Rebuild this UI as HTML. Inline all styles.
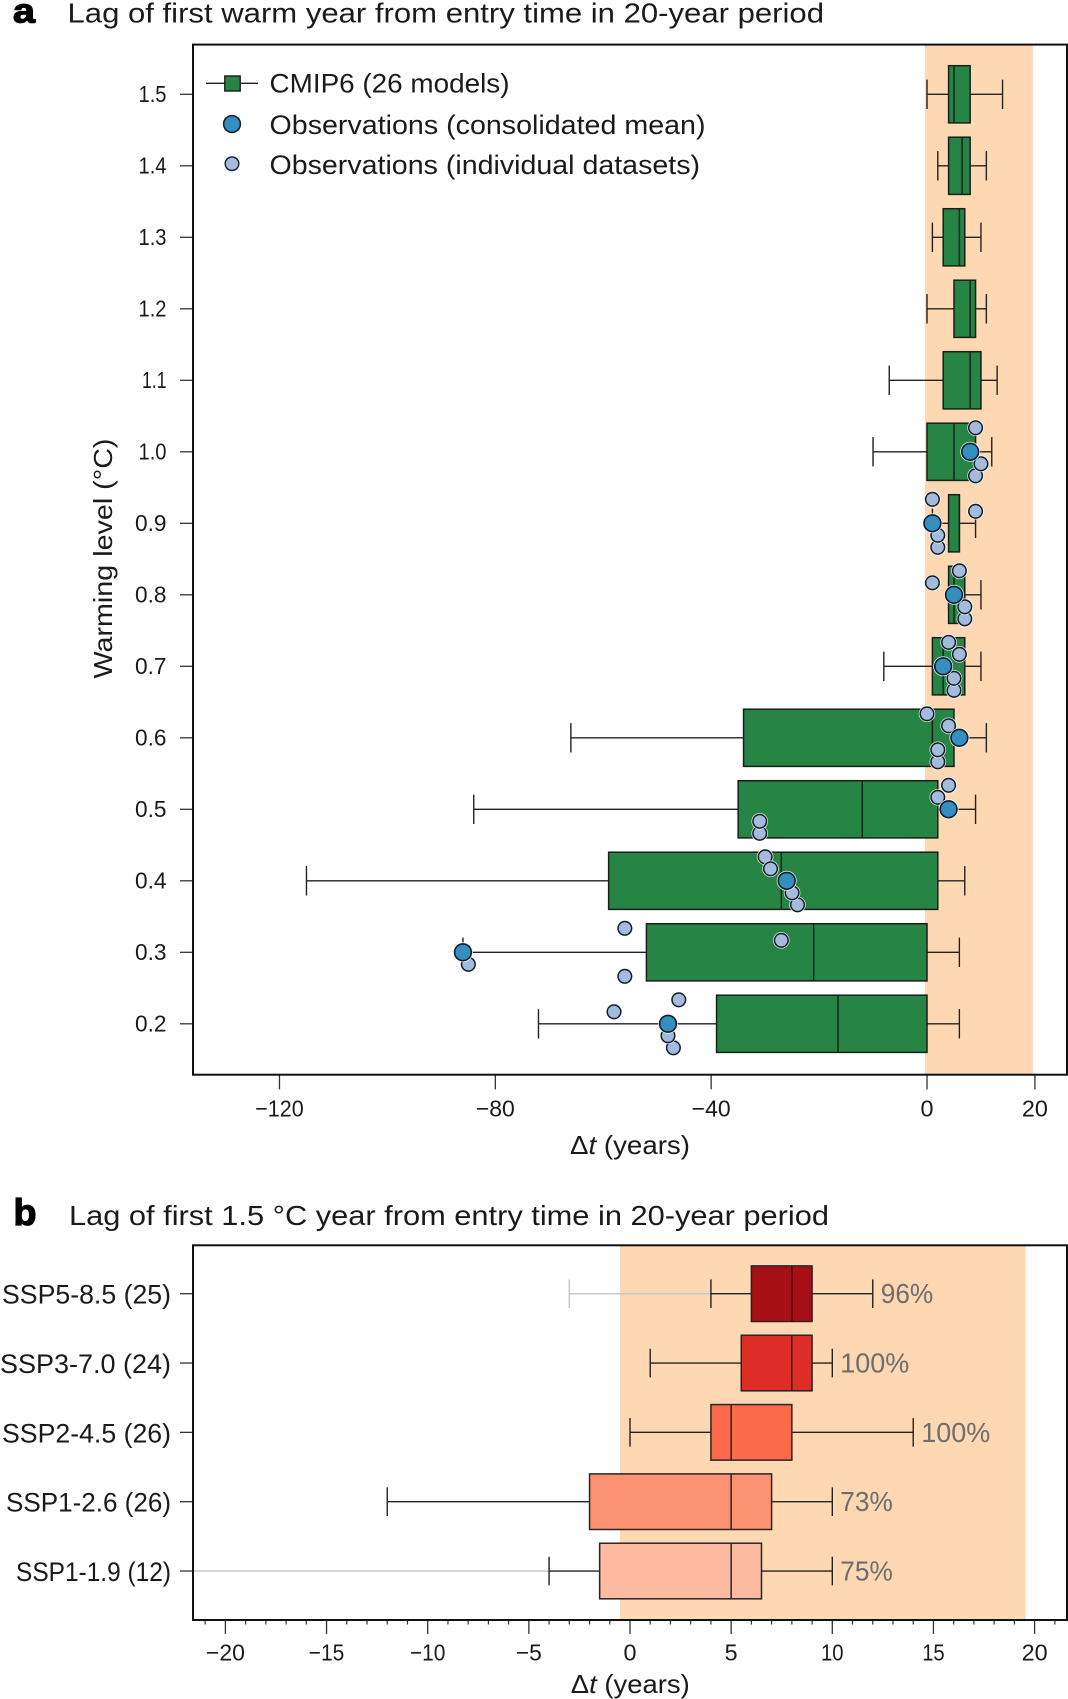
<!DOCTYPE html>
<html lang="en">
<head>
<meta charset="utf-8">
<title>Lag of first warm year and first 1.5 °C year</title>
<style>
html,body{margin:0;padding:0;background:#fff;}
svg{display:block;}
text{font-family:"Liberation Sans",sans-serif;fill:#1a1a1a;}
</style>
</head>
<body>
<svg id="figure" xmlns="http://www.w3.org/2000/svg" width="1068" height="1699" viewBox="0 0 1068 1699">
  <rect x="0" y="0" width="1068" height="1699" fill="#fff"/>

  <text x="13" y="22.7" font-size="34" font-weight="700" stroke="#000" stroke-width="1.2" textLength="22" lengthAdjust="spacingAndGlyphs" style="fill:#000">a</text>
  <text x="67.5" y="22.7" font-size="28" textLength="756.5" lengthAdjust="spacingAndGlyphs">Lag of first warm year from entry time in 20-year period</text>

  <g id="panel-a"></g>

  <g>
    <line x1="206" x2="258" y1="83.3" y2="83.3" stroke="#222" stroke-width="1.4"/>
    <rect x="224.8" y="76" width="15.4" height="15" fill="#268445" stroke="#1a1a1a" stroke-width="1.4"/>
    <text x="269.5" y="92.7" font-size="27" textLength="240" lengthAdjust="spacingAndGlyphs">CMIP6 (26 models)</text>
    <circle cx="232" cy="124" r="8.4" fill="#348fc1" stroke="#101c28" stroke-width="1.5"/>
    <text x="269.5" y="134" font-size="27" textLength="436" lengthAdjust="spacingAndGlyphs">Observations (consolidated mean)</text>
    <circle cx="232" cy="163.7" r="6.8" fill="#a5bbdd" stroke="#101c28" stroke-width="1.4"/>
    <text x="269.5" y="174" font-size="27" textLength="430.5" lengthAdjust="spacingAndGlyphs">Observations (individual datasets)</text>
  </g>

  <text transform="translate(112 558.5) rotate(-90)" text-anchor="middle" font-size="26" textLength="240" lengthAdjust="spacingAndGlyphs">Warming level (°C)</text>
  <text x="570" y="1154" font-size="26" textLength="120" lengthAdjust="spacingAndGlyphs">Δ<tspan font-style="italic">t</tspan> (years)</text>

  <text x="13.5" y="1225" font-size="37" font-weight="700" stroke="#000" stroke-width="1.2" textLength="23" lengthAdjust="spacingAndGlyphs" style="fill:#000">b</text>
  <text x="69" y="1225" font-size="28" textLength="760" lengthAdjust="spacingAndGlyphs">Lag of first 1.5 °C year from entry time in 20-year period</text>

  <g id="panel-b"></g>

  <text x="570.8" y="1693" font-size="26" textLength="119" lengthAdjust="spacingAndGlyphs">Δ<tspan font-style="italic">t</tspan> (years)</text>
</svg>

<script>
// ---------- Panel a data ----------
const levels = [1.5,1.4,1.3,1.2,1.1,1.0,0.9,0.8,0.7,0.6,0.5,0.4,0.3,0.2];
const levelLabels = ['1.5','1.4','1.3','1.2','1.1','1.0','0.9','0.8','0.7','0.6','0.5','0.4','0.3','0.2'];
const cmipLow    = [0,2,1,0,-7,-10,1,4,-8,-66,-84,-115,-86,-72];
const cmipQ1     = [4,4,3,5,3,0,4,4,1,-34,-35,-59,-52,-39];
const cmipMedian = [5,6.5,6,8,8,5,6,5,3,1,-12,-27,-21,-16.5];
const cmipQ3     = [8,8,7,9,10,9,6,7,7,5,2,2,0,0];
const cmipHigh   = [14,11,10,11,13,12,9,10,10,11,9,7,6,6];
const obsMean    = [null,null,null,null,null,8,1,5,3,6,4,-26,-86,-48];
const obsDatasetA = [null,null,null,null,null,9,1,6,4,0,4,-30,-56,-46];
const obsDatasetB = [null,null,null,null,null,null,9,1,6,4,2,-29,-27,-58];
const obsDatasetC = [null,null,null,null,null,10,2,7,5,2,-31,-25,-85,-48];
const obsDatasetD = [null,null,null,null,null,9,2,7,5,2,-31,-24,-56,-47];
const xTicksA = [-120,-80,-40,0,20];
const entryWindowA = [-0.4,19.6];

// ---------- Panel b data ----------
const scenarios = ['SSP5-8.5 (25)','SSP3-7.0 (24)','SSP2-4.5 (26)','SSP1-2.6 (26)','SSP1-1.9 (12)'];
const sspExtreme = [-3,null,null,null,-30];
const sspLow    = [4,1,0,-12,-4];
const sspQ1     = [6,5.5,4,-2,-1.5];
const sspMedian = [8,8,5,5,5];
const sspQ3     = [9,9,8,7,6.5];
const sspHigh   = [12,10,14,10,10];
const sspShare  = ['96%','100%','100%','73%','75%'];
const xTicksB = [-20,-15,-10,-5,0,5,10,15,20];
const entryWindowB = [-0.5,19.55];

// ---------- Helpers ----------
const NS = 'http://www.w3.org/2000/svg';
function mk(parent, tag, props, text){
  const el = document.createElementNS(NS, tag);
  for (const k in props) el.setAttribute(k, props[k]);
  if (text !== undefined) el.textContent = text;
  parent.appendChild(el);
  return el;
}
function labelWidth(s){
  let w = 0;
  for (const c of s) w += c === '1' ? 9.5 : c === '.' ? 5.5 : 13;
  return w;
}
function fmt(v){ return v < 0 ? '−' + Math.abs(v) : String(v); }

// ---------- Panel a ----------
const A = {left:193, right:1067, top:44.6, bottom:1074.7};
const xA = v => 927 + 5.396 * v;
const yA = v => 94.3 + (1.5 - v) * 715;
const gA = document.getElementById('panel-a');

const shadeA = mk(gA,'rect',{x:xA(entryWindowA[0]),y:A.top,width:xA(entryWindowA[1])-xA(entryWindowA[0]),height:A.bottom-A.top,fill:'#fed8b3'});



levels.forEach((lv,i)=>{
  const y = yA(lv);
  const tick = mk(gA,'line',{x1:180,x2:A.left,y1:y,y2:y,stroke:'#333','stroke-width':1.3});
  
  
  const lab = mk(gA,'text',{x:166.5,y:y+7.8,'text-anchor':'end','font-size':23,textLength:labelWidth(levelLabels[i]),lengthAdjust:'spacingAndGlyphs'},levelLabels[i]);
  
  

  const whisker = mk(gA,'line',{x1:xA(cmipLow[i]),x2:xA(cmipHigh[i]),y1:y,y2:y,stroke:'#222','stroke-width':1.4});
  
  
  const capL = mk(gA,'line',{x1:xA(cmipLow[i]),x2:xA(cmipLow[i]),y1:y-14.7,y2:y+14.7,stroke:'#222','stroke-width':1.4});
  
  
  const capH = mk(gA,'line',{x1:xA(cmipHigh[i]),x2:xA(cmipHigh[i]),y1:y-14.7,y2:y+14.7,stroke:'#222','stroke-width':1.4});
  
  
  const box = mk(gA,'rect',{x:xA(cmipQ1[i]),y:y-28.6,width:xA(cmipQ3[i])-xA(cmipQ1[i]),height:57.2,fill:'#268445',stroke:'#1a1f1c','stroke-width':1.5});
  
  
  const med = mk(gA,'line',{x1:xA(cmipMedian[i]),x2:xA(cmipMedian[i]),y1:y-28.6,y2:y+28.6,stroke:'#14261b','stroke-width':1.5});
  
  
});

[[obsDatasetA,-24],[obsDatasetB,-12],[obsDatasetD,24],[obsDatasetC,12]].forEach(pair=>{
  pair[0].forEach((v,i)=>{
    if (v === null) return;
    const y = yA(levels[i]) + pair[1];
    const halo = mk(gA,'circle',{cx:xA(v),cy:y,r:8.3,fill:'#fff','fill-opacity':0.85});
    
    
    const dot = mk(gA,'circle',{cx:xA(v),cy:y,r:6.8,fill:'#a5bbdd',stroke:'#101c28','stroke-width':1.5});
    
    
  });
});
obsMean.forEach((v,i)=>{
  if (v === null) return;
  const y = yA(levels[i]);
  const halo = mk(gA,'circle',{cx:xA(v),cy:y,r:10,fill:'#fff','fill-opacity':0.85});
  
  
  const dot = mk(gA,'circle',{cx:xA(v),cy:y,r:8.4,fill:'#348fc1',stroke:'#101c28','stroke-width':1.6});
  
  
});

xTicksA.forEach(t=>{
  const x = xA(t);
  const tick = mk(gA,'line',{x1:x,x2:x,y1:A.bottom,y2:A.bottom+14.7,stroke:'#333','stroke-width':1.3});
  
  
  const s = fmt(t);
  const lab = mk(gA,'text',{x:x,y:1116.7,'text-anchor':'middle','font-size':23,textLength:labelWidth(s),lengthAdjust:'spacingAndGlyphs'},s);
  
  
});
const frameA = mk(gA,'rect',{x:A.left,y:A.top,width:A.right-A.left,height:A.bottom-A.top,fill:'none',stroke:'#111','stroke-width':2});



// ---------- Panel b ----------
const B = {left:193, right:1067, top:1245.3, bottom:1620};
const xB = v => 630 + 20.23 * v;
const yB = i => 1293.7 + i * 69.33;
const sspFills = ['#a50f15','#de2d26','#fb6a4a','#fc9272','#fcbba1'];
const gB = document.getElementById('panel-b');

const shadeB = mk(gB,'rect',{x:xB(entryWindowB[0]),y:B.top,width:xB(entryWindowB[1])-xB(entryWindowB[0]),height:B.bottom-B.top,fill:'#fed8b3'});



scenarios.forEach((name,i)=>{
  const y = yB(i);
  const tick = mk(gB,'line',{x1:180,x2:B.left,y1:y,y2:y,stroke:'#333','stroke-width':1.3});
  
  
  const lab = mk(gB,'text',{x:171,y:y+10,'text-anchor':'end','font-size':27,textLength:name.indexOf('1.9')>0?155:(name.indexOf('2.6')>0?165:(name.indexOf('7.0')>0?171:169)),lengthAdjust:'spacingAndGlyphs'},name);
  
  

  if (sspExtreme[i] !== null){
    const lowX = Math.max(xB(sspExtreme[i]), B.left);
    const ext = mk(gB,'line',{x1:lowX,x2:xB(sspLow[i]),y1:y,y2:y,stroke:'#c9c9c9','stroke-width':1.5});
    
    
    if (lowX > B.left){
      const extCap = mk(gB,'line',{x1:lowX,x2:lowX,y1:y-14.3,y2:y+14.3,stroke:'#c9c9c9','stroke-width':1.5});
      
      
    }
  }
  const whisker = mk(gB,'line',{x1:xB(sspLow[i]),x2:xB(sspHigh[i]),y1:y,y2:y,stroke:'#222','stroke-width':1.4});
  
  
  const capL = mk(gB,'line',{x1:xB(sspLow[i]),x2:xB(sspLow[i]),y1:y-14.3,y2:y+14.3,stroke:'#222','stroke-width':1.4});
  
  
  const capH = mk(gB,'line',{x1:xB(sspHigh[i]),x2:xB(sspHigh[i]),y1:y-14.3,y2:y+14.3,stroke:'#222','stroke-width':1.4});
  
  
  const box = mk(gB,'rect',{x:xB(sspQ1[i]),y:y-27.8,width:xB(sspQ3[i])-xB(sspQ1[i]),height:55.6,fill:sspFills[i],stroke:'#262626','stroke-width':1.5});
  
  
  const med = mk(gB,'line',{x1:xB(sspMedian[i]),x2:xB(sspMedian[i]),y1:y-27.8,y2:y+27.8,stroke:i===0?'#4a0509':'#262626','stroke-width':1.5});
  
  
  const share = mk(gB,'text',{x:xB(sspHigh[i])+8,y:y+9.5,'font-size':28,textLength:sspShare[i].length>3?69:52.5,lengthAdjust:'spacingAndGlyphs',style:'fill:#6e6e6e'},sspShare[i]);
  
  
});

for (let m = -21; m <= 21; m++){
  if (m % 5 === 0) continue;
  const minor = mk(gB,'line',{x1:xB(m),x2:xB(m),y1:B.bottom,y2:B.bottom+4.5,stroke:'#333','stroke-width':1.2});
  
  
}
xTicksB.forEach(t=>{
  const x = xB(t);
  const tick = mk(gB,'line',{x1:x,x2:x,y1:B.bottom,y2:B.bottom+14,stroke:'#333','stroke-width':1.3});
  
  
  const s = fmt(t);
  const lab = mk(gB,'text',{x:x,y:1660.7,'text-anchor':'middle','font-size':23,textLength:labelWidth(s),lengthAdjust:'spacingAndGlyphs'},s);
  
  
});
const frameB = mk(gB,'rect',{x:B.left,y:B.top,width:B.right-B.left,height:B.bottom-B.top,fill:'none',stroke:'#111','stroke-width':2});


</script>
</body>
</html>
